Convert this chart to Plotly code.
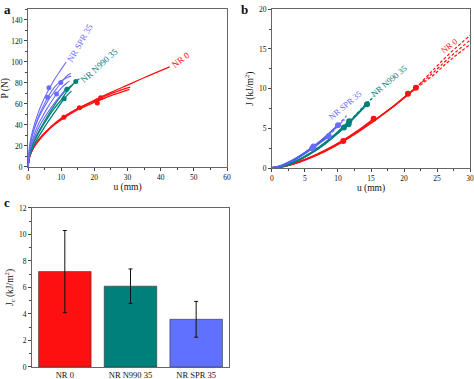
import plotly.graph_objects as go

RED = "#FF1010"
TEAL = "#00807A"
BLUE = "#6B6BFF"
BLUE_B = "#5060F0"
BAR_BLUE = "#6070FF"

# ---------------- Panel a: P vs u ----------------
a_spr_u = [[0, 0.5, 1, 2, 3, 4, 5, 6.3, 8, 10, 11.5],
           [0, 0.5, 1, 2, 3, 4, 6, 8, 9.9, 11.5, 12.5, 13.0],
           [0, 0.5, 1, 2, 3, 4, 5.9, 8, 10, 12, 13.0],
           [0, 0.5, 1, 2, 3, 4, 6, 8.6, 10, 11.5, 12.5],
           [0, 0.5, 1, 2, 4, 6, 8, 10, 12]]
a_spr_p = [[0, 21, 29.5, 41.5, 51, 59, 66, 74, 83.5, 93, 100],
           [0, 18, 26, 37, 45, 52, 63, 72, 80, 86, 88.5, 89],
           [0, 18, 26.5, 38, 47, 54, 66, 76, 82, 85.5, 86.5],
           [0, 15, 22, 32, 40, 46, 57, 69.5, 75, 79.5, 82],
           [0, 14, 20, 29, 42, 52, 61, 69, 76]]
a_n990_u = [[0, 0.5, 1, 2, 4, 6, 8, 10, 12, 14.4, 15.5],
            [0, 0.5, 1, 2, 4, 6, 8, 10, 11.7, 13.5],
            [0, 0.5, 1, 2, 4, 6, 8, 10.9, 13.1]]
a_n990_p = [[0, 12, 17, 25, 37, 47, 56, 64, 73, 81.5, 84],
            [0, 12.5, 18, 26, 38, 49, 59, 68, 74, 78.5],
            [0, 10.5, 15, 22, 33, 43, 52, 65, 72.5]]
a_nr0_u = [[0, 0.5, 1, 2, 4, 6, 8, 10.8, 15, 20, 25, 30, 35, 42.7],
           [0, 0.5, 1, 2, 4, 6, 8, 10.8, 15.5, 21.9, 26, 30.8],
           [0, 0.5, 1, 2, 4, 6, 8, 11, 15, 20.7, 25, 30.6]]
a_nr0_p = [[0, 10, 14, 20, 28.5, 35, 40.8, 47.3, 55.5, 63.5, 71, 78, 85, 95.3],
           [0, 10.2, 14.5, 20.5, 29, 35.5, 41.5, 48, 56.5, 65.5, 71, 76],
           [0, 9.8, 14, 20, 28, 35, 40.5, 47, 54.5, 62.5, 68, 74]]
a_spr_dots_u = [6.3, 5.9, 9.9, 8.6]
a_spr_dots_p = [75.5, 66.5, 80.5, 69.5]
a_n990_dots_u = [14.4, 11.7, 10.9]
a_n990_dots_p = [81.5, 74, 65]
a_nr0_dots_u = [10.8, 15.5, 20.7, 20.9, 21.9]
a_nr0_dots_p = [47.3, 56.5, 62.8, 61.0, 66]

# ---------------- Panel b: J vs u ----------------
b_spr_u = [[0, 1, 2, 3, 4, 5, 6.3], [0, 1, 2, 3, 4, 5, 6.3, 8.6], [0, 1, 2, 3, 4, 5, 6.3, 8, 10]]
b_spr_j = [[0, 0.17, 0.48, 0.89, 1.37, 1.91, 2.7], [0, 0.16, 0.46, 0.86, 1.33, 1.86, 2.62, 4.0],
           [0, 0.17, 0.48, 0.89, 1.37, 1.91, 2.7, 3.86, 5.4]]
b_spr_dash_u = [[6.3, 8, 10, 11.0], [8.6, 10, 11.3], [10, 10.8]]
b_spr_dash_j = [[2.7, 3.85, 5.3, 6.1], [4.0, 5.3, 6.6], [5.4, 6.1]]
b_n990_u = [[0, 2, 4, 6, 8, 10.9], [0, 2, 4, 6, 8, 10, 11.7], [0, 2, 4, 6, 8, 10.9, 12, 14.4]]
b_n990_j = [[0, 0.32, 0.98, 1.92, 3.07, 5.1], [0, 0.33, 1.0, 1.95, 3.15, 4.55, 5.9],
            [0, 0.32, 0.98, 1.92, 3.07, 5.1, 5.97, 8.05]]
b_n990_dash_u = [[10.9, 12.5, 14.5], [11.7, 13.5, 15.0], [14.4, 15.5]]
b_n990_dash_j = [[5.1, 6.5, 8.4], [5.9, 7.4, 8.7], [8.05, 9.1]]
b_nr0_u = [[0, 2, 4, 6, 8, 10.8], [0, 2, 4, 6, 8, 10.8, 13, 15.4],
           [0, 2, 4, 6, 8, 10.8, 13, 15.4, 18, 20.6], [0, 2, 4, 6, 8, 10.8, 13, 15.4, 18, 20.6, 21.8]]
b_nr0_j = [[0, 0.24, 0.72, 1.35, 2.1, 3.35], [0, 0.26, 0.76, 1.42, 2.2, 3.5, 4.7, 6.2],
           [0, 0.25, 0.73, 1.37, 2.13, 3.4, 4.55, 5.95, 7.5, 9.3],
           [0, 0.25, 0.73, 1.37, 2.13, 3.4, 4.53, 5.9, 7.5, 9.25, 10.1]]
b_nr0_dash_u = [[20.6, 24, 27, 31], [21.8, 24, 27, 31], [21.0, 24, 27, 31]]
b_nr0_dash_j = [[9.3, 11.4, 13.6, 16.2], [10.1, 12.0, 14.5, 17.4], [9.6, 11.7, 14.0, 16.8]]
b_spr_dots_u = [6.3, 8.6, 10.0, 6.1]
b_spr_dots_j = [2.7, 4.0, 5.4, 2.5]
b_n990_dots_u = [10.9, 11.7, 11.6, 14.4]
b_n990_dots_j = [5.1, 5.9, 5.5, 8.05]
b_nr0_dots_u = [10.8, 15.4, 20.6, 21.8]
b_nr0_dots_j = [3.4, 6.2, 9.35, 10.1]

# ---------------- Panel c: bars ----------------
c_categories = ["NR 0", "NR N990 35", "NR SPR 35"]
c_values = [7.2, 6.1, 3.6]
c_errors = [3.1, 1.3, 1.35]
c_colors = [RED, TEAL, BAR_BLUE]

fig = go.Figure()


def add_lines(us, vs, color, xa, ya, dash="solid", width=1.2):
    for u, v in zip(us, vs):
        fig.add_trace(go.Scatter(x=u, y=v, mode="lines", xaxis=xa, yaxis=ya,
                                 line=dict(color=color, width=width, dash=dash, shape="spline"),
                                 showlegend=False, hoverinfo="skip"))


def add_dots(u, v, color, xa, ya, size=5):
    fig.add_trace(go.Scatter(x=u, y=v, mode="markers", xaxis=xa, yaxis=ya,
                             marker=dict(color=color, size=size), showlegend=False))


# panel a
add_lines(a_nr0_u, a_nr0_p, RED, "x", "y", width=1.3)
add_lines(a_n990_u, a_n990_p, TEAL, "x", "y", width=1.3)
add_lines(a_spr_u, a_spr_p, BLUE, "x", "y", width=1.1)
add_dots(a_nr0_dots_u, a_nr0_dots_p, RED, "x", "y")
add_dots(a_n990_dots_u, a_n990_dots_p, TEAL, "x", "y")
add_dots(a_spr_dots_u, a_spr_dots_p, BLUE, "x", "y")

# panel b
add_lines(b_nr0_dash_u, b_nr0_dash_j, RED, "x2", "y2", dash="3px,2px", width=1.2)
add_lines(b_nr0_u, b_nr0_j, RED, "x2", "y2", width=1.6)
add_lines(b_n990_dash_u, b_n990_dash_j, TEAL, "x2", "y2", dash="3px,2px", width=1.2)
add_lines(b_spr_dash_u, b_spr_dash_j, BLUE, "x2", "y2", dash="3px,2px", width=1.2)
add_lines(b_n990_u, b_n990_j, TEAL, "x2", "y2", width=1.9)
add_lines(b_spr_u, b_spr_j, BLUE_B, "x2", "y2", width=1.9)
add_dots(b_nr0_dots_u, b_nr0_dots_j, RED, "x2", "y2", size=6)
add_dots(b_n990_dots_u, b_n990_dots_j, TEAL, "x2", "y2", size=6)
add_dots(b_spr_dots_u, b_spr_dots_j, BLUE, "x2", "y2", size=6)

# panel c
fig.add_trace(go.Bar(x=c_categories, y=c_values, xaxis="x3", yaxis="y3", width=0.8,
                     marker=dict(color=c_colors, line=dict(color="#333", width=0.6)),
                     error_y=dict(type="data", array=c_errors, color="#111", thickness=1, width=2),
                     showlegend=False))

FONT = "Liberation Serif"
TICKF = dict(family=FONT, size=7.5, color="#111")
TITLEF = dict(family=FONT, size=9.5, color="#111")


def ax(**kw):
    base = dict(showline=True, linecolor="#666", linewidth=1, mirror=True, ticks="outside",
                ticklen=3, tickwidth=1, tickcolor="#444", showgrid=False, zeroline=False,
                tickfont=TICKF, automargin=False, ticklabeloverflow="allow")
    base.update(kw)
    return base


fig.update_layout(
    width=474, height=379, margin=dict(l=0, r=0, t=0, b=0, autoexpand=False),
    paper_bgcolor="white", plot_bgcolor="white",
    font=dict(family=FONT),
    xaxis=ax(domain=[0.0591, 0.4789], range=[0, 60], dtick=10, anchor="y",
             minor=dict(dtick=5, ticks="outside", ticklen=2, tickcolor="#444"),
             title=dict(text="u (mm)", font=TITLEF, standoff=1)),
    yaxis=ax(domain=[0.5594, 0.975], range=[0, 150], tickvals=[0, 20, 40, 60, 80, 100, 120, 140],
             anchor="x", minor=dict(dtick=10, ticks="outside", ticklen=2, tickcolor="#444"),
             title=dict(text="P (N)", font=TITLEF, standoff=3)),
    xaxis2=ax(domain=[0.5738, 0.9916], range=[0, 30], tickvals=[0, 5, 10, 15, 20, 25, 30],
              anchor="y2",
              minor=dict(dtick=2.5, ticks="outside", ticklen=2, tickcolor="#444"),
              title=dict(text="u (mm)", font=TITLEF, standoff=1)),
    yaxis2=ax(domain=[0.5567, 0.9755], range=[0, 20], dtick=5, anchor="x2",
              minor=dict(dtick=2.5, ticks="outside", ticklen=2, tickcolor="#444"),
              title=dict(text="J (kJ/m<sup>2</sup>)", font=TITLEF, standoff=3)),
    xaxis3=ax(domain=[0.0675, 0.4831], range=[-0.5, 2.5], anchor="y3", ticks="",
              tickfont=dict(family=FONT, size=8.5, color="#111")),
    yaxis3=ax(domain=[0.0317, 0.4512], range=[0, 12], dtick=2, anchor="x3",
              minor=dict(dtick=1, ticks="outside", ticklen=2, tickcolor="#444"),
              title=dict(text="J<sub>c</sub> (kJ/m<sup>2</sup>)", font=TITLEF, standoff=3)),
)

ann = [
    dict(text="<b>a</b>", x=0.004, y=1.0, xref="paper", yref="paper", showarrow=False,
         xanchor="left", yanchor="top", font=dict(family=FONT, size=13, color="#111")),
    dict(text="<b>b</b>", x=0.505, y=1.0, xref="paper", yref="paper", showarrow=False,
         xanchor="left", yanchor="top", font=dict(family=FONT, size=13, color="#111")),
    dict(text="<b>c</b>", x=0.004, y=0.49, xref="paper", yref="paper", showarrow=False,
         xanchor="left", yanchor="top", font=dict(family=FONT, size=13, color="#111")),
    dict(text="NR SPR 35", x=15.7, y=118, xref="x", yref="y", textangle=-60, showarrow=False,
         font=dict(family=FONT, size=9, color=BLUE)),
    dict(text="NR N990 35", x=21.7, y=97, xref="x", yref="y", textangle=-42, showarrow=False,
         font=dict(family=FONT, size=9, color=TEAL)),
    dict(text="NR 0", x=46, y=102, xref="x", yref="y", textangle=-37, showarrow=False,
         font=dict(family=FONT, size=9, color=RED)),
    dict(text="NR SPR 35", x=11.1, y=8.0, xref="x2", yref="y2", textangle=-40, showarrow=False,
         font=dict(family=FONT, size=8.5, color=BLUE)),
    dict(text="NR N990 35", x=17.7, y=11.0, xref="x2", yref="y2", textangle=-40, showarrow=False,
         font=dict(family=FONT, size=8.5, color=TEAL)),
    dict(text="NR 0", x=26.8, y=15.4, xref="x2", yref="y2", textangle=-37, showarrow=False,
         font=dict(family=FONT, size=8.5, color=RED)),
]
fig.update_layout(annotations=ann)

fig.write_html("out.html", config={"displayModeBar": False},
               post_script="document.body.style.margin='0';")
